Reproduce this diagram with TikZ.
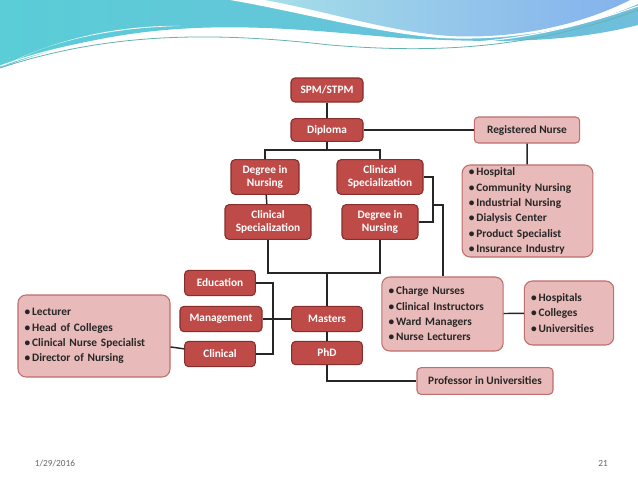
\documentclass[tikz,border=0pt]{standalone}
\usepackage{fontspec}
\setmainfont{Carlito}
\definecolor{bred}{RGB}{190,75,72}
\definecolor{bredd}{RGB}{135,45,43}
\definecolor{bpink}{RGB}{232,186,185}
\definecolor{bpinkd}{RGB}{190,110,108}
\definecolor{wave1}{RGB}{110,190,220}
\definecolor{wave2}{RGB}{165,222,232}
\definecolor{wave3}{RGB}{90,205,215}
\begin{document}
\begin{tikzpicture}[x=0.75pt,y=-0.75pt,
 red/.style={draw=bredd,fill=bred,line width=0.8pt,rounded corners=3pt,text=white,font=\bfseries\fontsize{8.5}{9.5}\selectfont,align=center,inner sep=0pt},
 pink/.style={draw=bpinkd,fill=bpink,line width=0.8pt,rounded corners=6pt,text=black!85,font=\bfseries\fontsize{8.5}{11.5}\selectfont,align=left,inner xsep=5pt,inner ysep=0pt},
 ln/.style={line width=1.1pt,black!85}]
\useasboundingbox (0,0) rectangle (638,478);
\fill[white] (0,0) rectangle (638,478);
% top wave
\shade[left color=wave3,right color=wave1] (0,0) -- (638,0) -- (638,25) .. controls (560,45) and (480,42) .. (400,38) .. controls (280,28) and (150,10) .. (0,68) -- cycle;
\fill[white] (0,68) .. controls (60,35) and (130,25) .. (180,26) .. controls (100,28) and (40,45) .. (0,68) -- cycle;
\fill[white] (230,0) .. controls (300,12) and (370,32) .. (440,38) .. controls (520,42) and (590,25) .. (638,4) -- (638,0) -- cycle;
\shade[left color=wave2,right color=wave2!80!blue] (265,0) .. controls (330,12) and (390,32) .. (450,36) .. controls (530,40) and (595,18) .. (630,0) -- cycle;
\draw[teal!60,line width=0.6pt] (0,68) .. controls (100,35) and (200,30) .. (330,45) .. controls (450,55) and (540,45) .. (638,10);
\draw[white,line width=0.8pt] (0,66) .. controls (100,30) and (200,26) .. (330,41) .. controls (450,51) and (540,41) .. (638,6);
% nodes
\node[red,minimum width=54pt,minimum height=18pt] (spm) at (327,90) {SPM/STPM};
\node[red,minimum width=54pt,minimum height=17pt] (dip) at (327,130) {Diploma};
\node[pink,align=center,rounded corners=3pt,minimum width=79pt,minimum height=19.5pt] (rn) at (527,130) {Registered Nurse};
\node[red,minimum width=51pt,minimum height=26pt] (dn1) at (265,177) {Degree in\\Nursing};
\node[red,minimum width=64.5pt,minimum height=26pt] (cs1) at (380,177) {Clinical\\Specialization};
\node[red,minimum width=64.5pt,minimum height=26pt] (cs2) at (268,222) {Clinical\\Specialization};
\node[red,minimum width=57pt,minimum height=26pt] (dn2) at (380,222) {Degree in\\Nursing};
\node[pink,text width=88pt,minimum height=69pt] (hosp) at (527.5,211) {\textbullet\,Hospital\\\textbullet\,Community Nursing\\\textbullet\,Industrial Nursing\\\textbullet\,Dialysis Center\\\textbullet\,Product Specialist\\\textbullet\,Insurance Industry};
\node[red,minimum width=53pt,minimum height=19pt] (edu) at (220,283) {Education};
\node[red,minimum width=61.5pt,minimum height=19pt] (man) at (221,319) {Management};
\node[red,minimum width=53pt,minimum height=19pt] (cli) at (220,354) {Clinical};
\node[red,minimum width=53pt,minimum height=19pt] (mas) at (327,319) {Masters};
\node[red,minimum width=53pt,minimum height=17.5pt] (phd) at (327,353) {PhD};
\node[pink,text width=81pt,minimum height=55.5pt] (chg) at (442.5,314) {\textbullet\,Charge Nurses\\\textbullet\,Clinical Instructors\\\textbullet\,Ward Managers\\\textbullet\,Nurse Lecturers};
\node[pink,text width=57pt,minimum height=48pt] (hos2) at (569,313) {\textbullet\,Hospitals\\\textbullet\,Colleges\\\textbullet\,Universities};
\node[pink,text width=104pt,minimum height=61.5pt] (lec) at (94,336) {\textbullet\,Lecturer\\\textbullet\,Head of Colleges\\\textbullet\,Clinical Nurse Specialist\\\textbullet\,Director of Nursing};
\node[pink,align=center,minimum width=102pt,minimum height=20pt,rounded corners=3pt] (prof) at (485,381) {Professor in Universities};
% connectors
\coordinate (j1) at (327,150);
\coordinate (j2) at (327,273);
\coordinate (j3) at (433,205);
\draw[ln] (spm) -- (dip);
\draw[ln] (dip) -- (rn);
\draw[ln] (rn) -- (hosp);
\draw[ln] (dip) -- (j1);
\draw[ln] (dn1.north) |- (j1) -| (cs1.north);
\draw[ln] (dn1) -- (cs2);
\draw[ln] (cs1.east) -| (j3) |- (dn2.east);
\draw[ln] (j3) -| (chg.north -| 443,0);
\draw[ln] (cs2.south) |- (j2) -| (dn2.south);
\draw[ln] (j2) -- (mas);
\draw[ln] (man) -- (mas);
\draw[ln] (edu.east) -| (273,354) -- (cli.east);
\draw[ln] (cli) -- (lec);
\draw[ln] (mas) -- (phd);
\draw[ln] (phd.south) |- (prof.west);
\draw[ln] (chg) -- (hos2);
% footer
\node[font=\fontsize{7}{8}\selectfont,text=black!60] (date) at (55,463) {1/29/2016};
\node[font=\fontsize{7}{8}\selectfont,text=black!60] (pg) at (603,463) {21};
\end{tikzpicture}
\end{document}
